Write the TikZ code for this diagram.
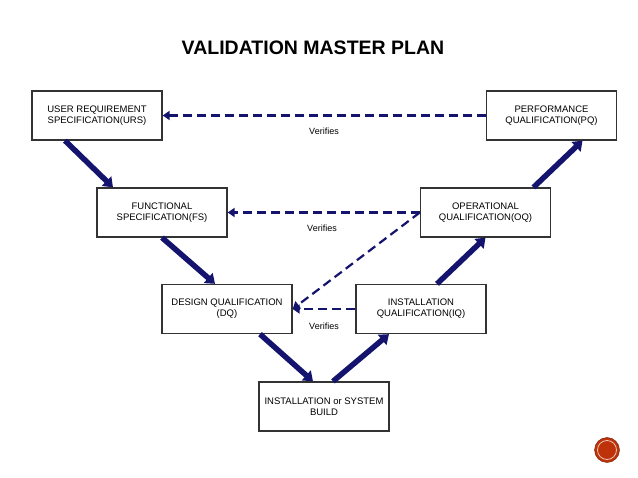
\documentclass[tikz,border=0pt]{standalone}
\usepackage{fontspec}
\setmainfont{Liberation Sans}
\usetikzlibrary{arrows.meta}
\definecolor{nv}{RGB}{20,20,110}
\definecolor{rd}{RGB}{190,50,10}
\begin{document}
\begin{tikzpicture}[x=1pt,y=-1pt,
 box/.style={draw=black!80,line width=1.3pt,minimum width=130pt,minimum height=49pt,align=center,font=\fontsize{9.5}{11}\selectfont,inner sep=1pt},
 thick arr/.style={draw=nv,line width=5.5pt,-{Triangle[length=9pt,width=13pt]}},
 dash arr/.style={draw=nv,line width=2.2pt,dash pattern=on 9pt off 5pt,-{Triangle[length=7pt,width=9pt]}},
 lab/.style={font=\fontsize{9}{10}\selectfont}]
\useasboundingbox (0,0) rectangle (638,478);
\node[font=\bfseries\fontsize{19.5}{22}\selectfont] (t) at (313,48) {VALIDATION MASTER PLAN};
\node[box] (urs) at (97,115.5) {USER REQUIREMENT\\SPECIFICATION(URS)};
\node[box] (pq) at (551.5,115.5) {PERFORMANCE\\QUALIFICATION(PQ)};
\node[box] (fs) at (162,212.5) {FUNCTIONAL\\SPECIFICATION(FS)};
\node[box] (oq) at (485.5,212.5) {OPERATIONAL\\QUALIFICATION(OQ)};
\node[box] (dq) at (227,309) {DESIGN QUALIFICATION\\(DQ)};
\node[box] (iq) at (421,309) {INSTALLATION\\QUALIFICATION(IQ)};
\node[box] (bd) at (324,406.5) {INSTALLATION or SYSTEM\\BUILD};
\draw[thick arr] ([xshift=-32pt]urs.south) -- ([xshift=-49pt]fs.north);
\draw[thick arr] (fs.south) -- ([xshift=-12pt]dq.north);
\draw[thick arr] ([xshift=33pt]dq.south) -- ([xshift=-11pt]bd.north);
\draw[thick arr] ([xshift=9pt]bd.north) -- ([xshift=-32pt]iq.south);
\draw[thick arr] ([xshift=16pt]iq.north) -- (oq.south);
\draw[thick arr] ([xshift=48pt]oq.north) -- ([xshift=31pt]pq.south);
\draw[dash arr] (pq.west) -- (urs.east);
\draw[dash arr] (oq.west) -- (fs.east);
\draw[dash arr] (oq.west) -- (dq.east);
\draw[dash arr] (iq.west) -- (dq.east);
\node[lab] (v1) at (324,131) {Verifies};
\node[lab] (v2) at (322,228) {Verifies};
\node[lab] (v3) at (324,326) {Verifies};
\node[circle,fill=rd,draw=rd!60!black,minimum size=25pt,inner sep=0] (c) at (607,450) {};
\draw[white!70!rd,line width=0.8pt] (c.center) circle (9.5pt);
\end{tikzpicture}
\end{document}
